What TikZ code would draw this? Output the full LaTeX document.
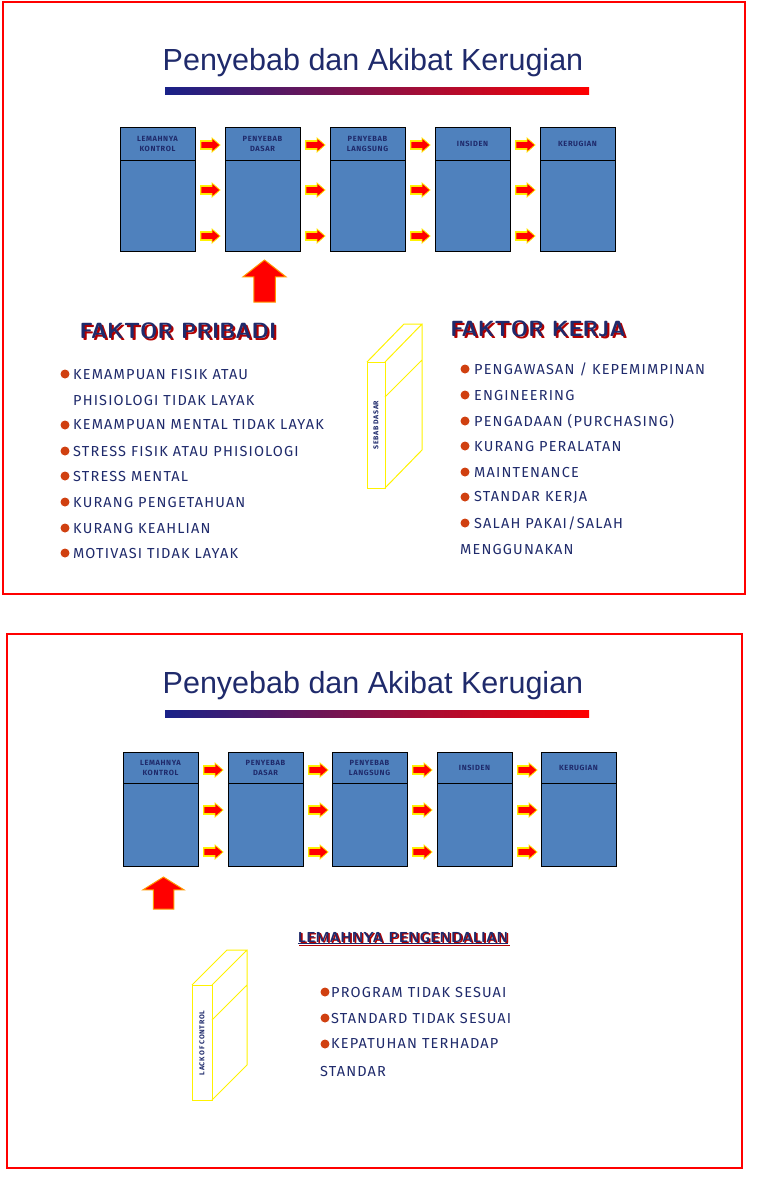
\documentclass[tikz,border=0pt]{standalone}
\usepackage{fontspec}
\setmainfont{Liberation Sans}
\newfontfamily\comic[LetterSpace=8]{Fira Sans}
\usetikzlibrary{calc}
\definecolor{boxblue}{HTML}{4F81BD}
\definecolor{navy}{HTML}{1F2A6B}
\definecolor{bul}{HTML}{D04010}
\tikzset{
 panel/.style={draw=red,line width=1.2pt},
 hbox/.style={draw=black,fill=boxblue,line width=1pt},
 htxt/.style={font=\comic\bfseries\fontsize{7.5}{10}\selectfont,text=navy,align=center},
 item/.style={font=\comic\fontsize{14.5}{16}\selectfont,text=navy,anchor=west,inner sep=0},
 dot/.style={circle,fill=bul,inner sep=0,minimum size=9pt},
 ftitle/.style={font=\sffamily\bfseries\fontsize{22}{24}\selectfont},
 ttl/.style={font=\fontsize{30.5}{34}\selectfont,text=navy}
}
\newcommand{\rarrow}[2]{\fill[yellow] (#1-1,#2-5) rectangle (#1+13,#2+5);
 \draw[fill=red,draw=yellow!90!orange,line width=0.8pt] (#1,#2-3.5)--(#1+11,#2-3.5)--(#1+11,#2-7)--(#1+19,#2)--(#1+11,#2+7)--(#1+11,#2+3.5)--(#1,#2+3.5)--cycle;}
\newcommand{\uarrow}[4]{\draw[fill=red,draw=orange!80!yellow,line width=1pt] ({#1+0.25*#3},#4)--({#1+0.25*#3},{#2+0.4*(#4-#2)})--(#1,{#2+0.4*(#4-#2)})--({#1+0.5*#3},#2)--({#1+#3},{#2+0.4*(#4-#2)})--({#1+0.75*#3},{#2+0.4*(#4-#2)})--({#1+0.75*#3},#4)--cycle;}
\newcommand{\ftitle}[3]{\node[ftitle,text=red!70!black] at (#1+2,#2+2) {#3};\node[ftitle,text=navy] at (#1,#2) {#3};}
\begin{document}
\begin{tikzpicture}[x=1pt,y=-1pt]
\useasboundingbox (0,0) rectangle (768,1186);
% panels
\draw[panel] (3,2) rectangle (745,594);
\draw[panel] (7,634) rectangle (742,1168);
\foreach \yo/\tx in {0/373,623/373}{
 \node[ttl] at (\tx,63+\yo) {Penyebab dan Akibat Kerugian};
 \shade[left color=navy!80!blue,right color=red] (165,87+\yo) rectangle (589,94+\yo);
}
% top boxes
\foreach \x/\t [count=\i] in {120/{LEMAHNYA\\KONTROL},225/{PENYEBAB\\DASAR},330/{PENYEBAB\\LANGSUNG},435/INSIDEN,540/KERUGIAN}{
 \draw[hbox] (\x,127) rectangle (\x+75,251);
 \draw[hbox] (\x,127) rectangle (\x+75,160);
 \node[htxt] (t\i) at (\x+37.5,143.5) {\t};
}
\foreach \x in {201,306,411,516}{\foreach \y in {145,190,236}{\rarrow{\x}{\y}}}
\uarrow{243}{260}{43}{302}
% bottom boxes
\foreach \x/\t [count=\i] in {123/{LEMAHNYA\\KONTROL},228/{PENYEBAB\\DASAR},332/{PENYEBAB\\LANGSUNG},437/INSIDEN,541/KERUGIAN}{
 \draw[hbox] (\x,752) rectangle (\x+75,866);
 \draw[hbox] (\x,752) rectangle (\x+75,783);
 \node[htxt] (b\i) at (\x+37.5,768) {\t};
}
\foreach \x in {204,309,413,518}{\foreach \y in {770,810,852}{\rarrow{\x}{\y}}}
\uarrow{143}{877}{41}{909}
% faktor pribadi
\ftitle{178}{331}{FAKTOR PRIBADI}
\foreach \y/\t in {374/{KEMAMPUAN FISIK ATAU},425/{KEMAMPUAN MENTAL TIDAK LAYAK},451/{STRESS FISIK ATAU PHISIOLOGI},476/{STRESS MENTAL},502/{KURANG PENGETAHUAN},528/{KURANG KEAHLIAN},553/{MOTIVASI TIDAK LAYAK}}{
 \node[dot] at (65,\y) {}; \node[item] at (73,\y) {\t};}
\node[item] at (73,400) {PHISIOLOGI TIDAK LAYAK};
% yellow box 1
\draw[yellow,line width=1pt] (367,362) rectangle (385,488);
\draw[yellow,line width=1pt] (367,362)--(404,324)--(422,324)--(385,362) (422,324)--(422,450)--(385,488) (385,397)--(422,360);
\node[rotate=90,font=\comic\bfseries\fontsize{7}{8}\selectfont,text=navy] (sd) at (376,425) {SEBAB DASAR};
% faktor kerja
\ftitle{538}{329}{FAKTOR KERJA}
\foreach \y/\t in {369/{PENGAWASAN / KEPEMIMPINAN},395/{ENGINEERING},421/{PENGADAAN (PURCHASING)},446/{KURANG PERALATAN},472/{MAINTENANCE},497/{STANDAR KERJA},523/{SALAH PAKAI/SALAH}}{
 \node[dot] at (465,\y) {}; \node[item] at (474,\y) {\t};}
\node[item] at (460,549) {MENGGUNAKAN};
% panel 2 lower
\node[ftitle,font=\sffamily\bfseries\fontsize{14.5}{16}\selectfont,text=red!70!black] at (404.5,939.5) {\underline{LEMAHNYA PENGENDALIAN}};
\node[ftitle,font=\sffamily\bfseries\fontsize{14.5}{16}\selectfont,text=navy] at (403,938) {\underline{LEMAHNYA PENGENDALIAN}};
\draw[yellow,line width=1pt] (192,985) rectangle (212,1100);
\draw[yellow,line width=1pt] (192,985)--(227,950)--(247,950)--(212,985) (247,950)--(247,1065)--(212,1100) (212,1020)--(247,985);
\node[rotate=90,font=\comic\bfseries\fontsize{7}{8}\selectfont,text=navy] (lc) at (202,1043) {LACK OF CONTROL};
\foreach \y/\t in {992/{PROGRAM TIDAK SESUAI},1018/{STANDARD TIDAK SESUAI},1044/{KEPATUHAN TERHADAP}}{
 \node[dot] at (325,\y) {}; \node[item] at (331,\y) {\t};}
\node[item] at (320,1071) {STANDAR};
\end{tikzpicture}
\end{document}
